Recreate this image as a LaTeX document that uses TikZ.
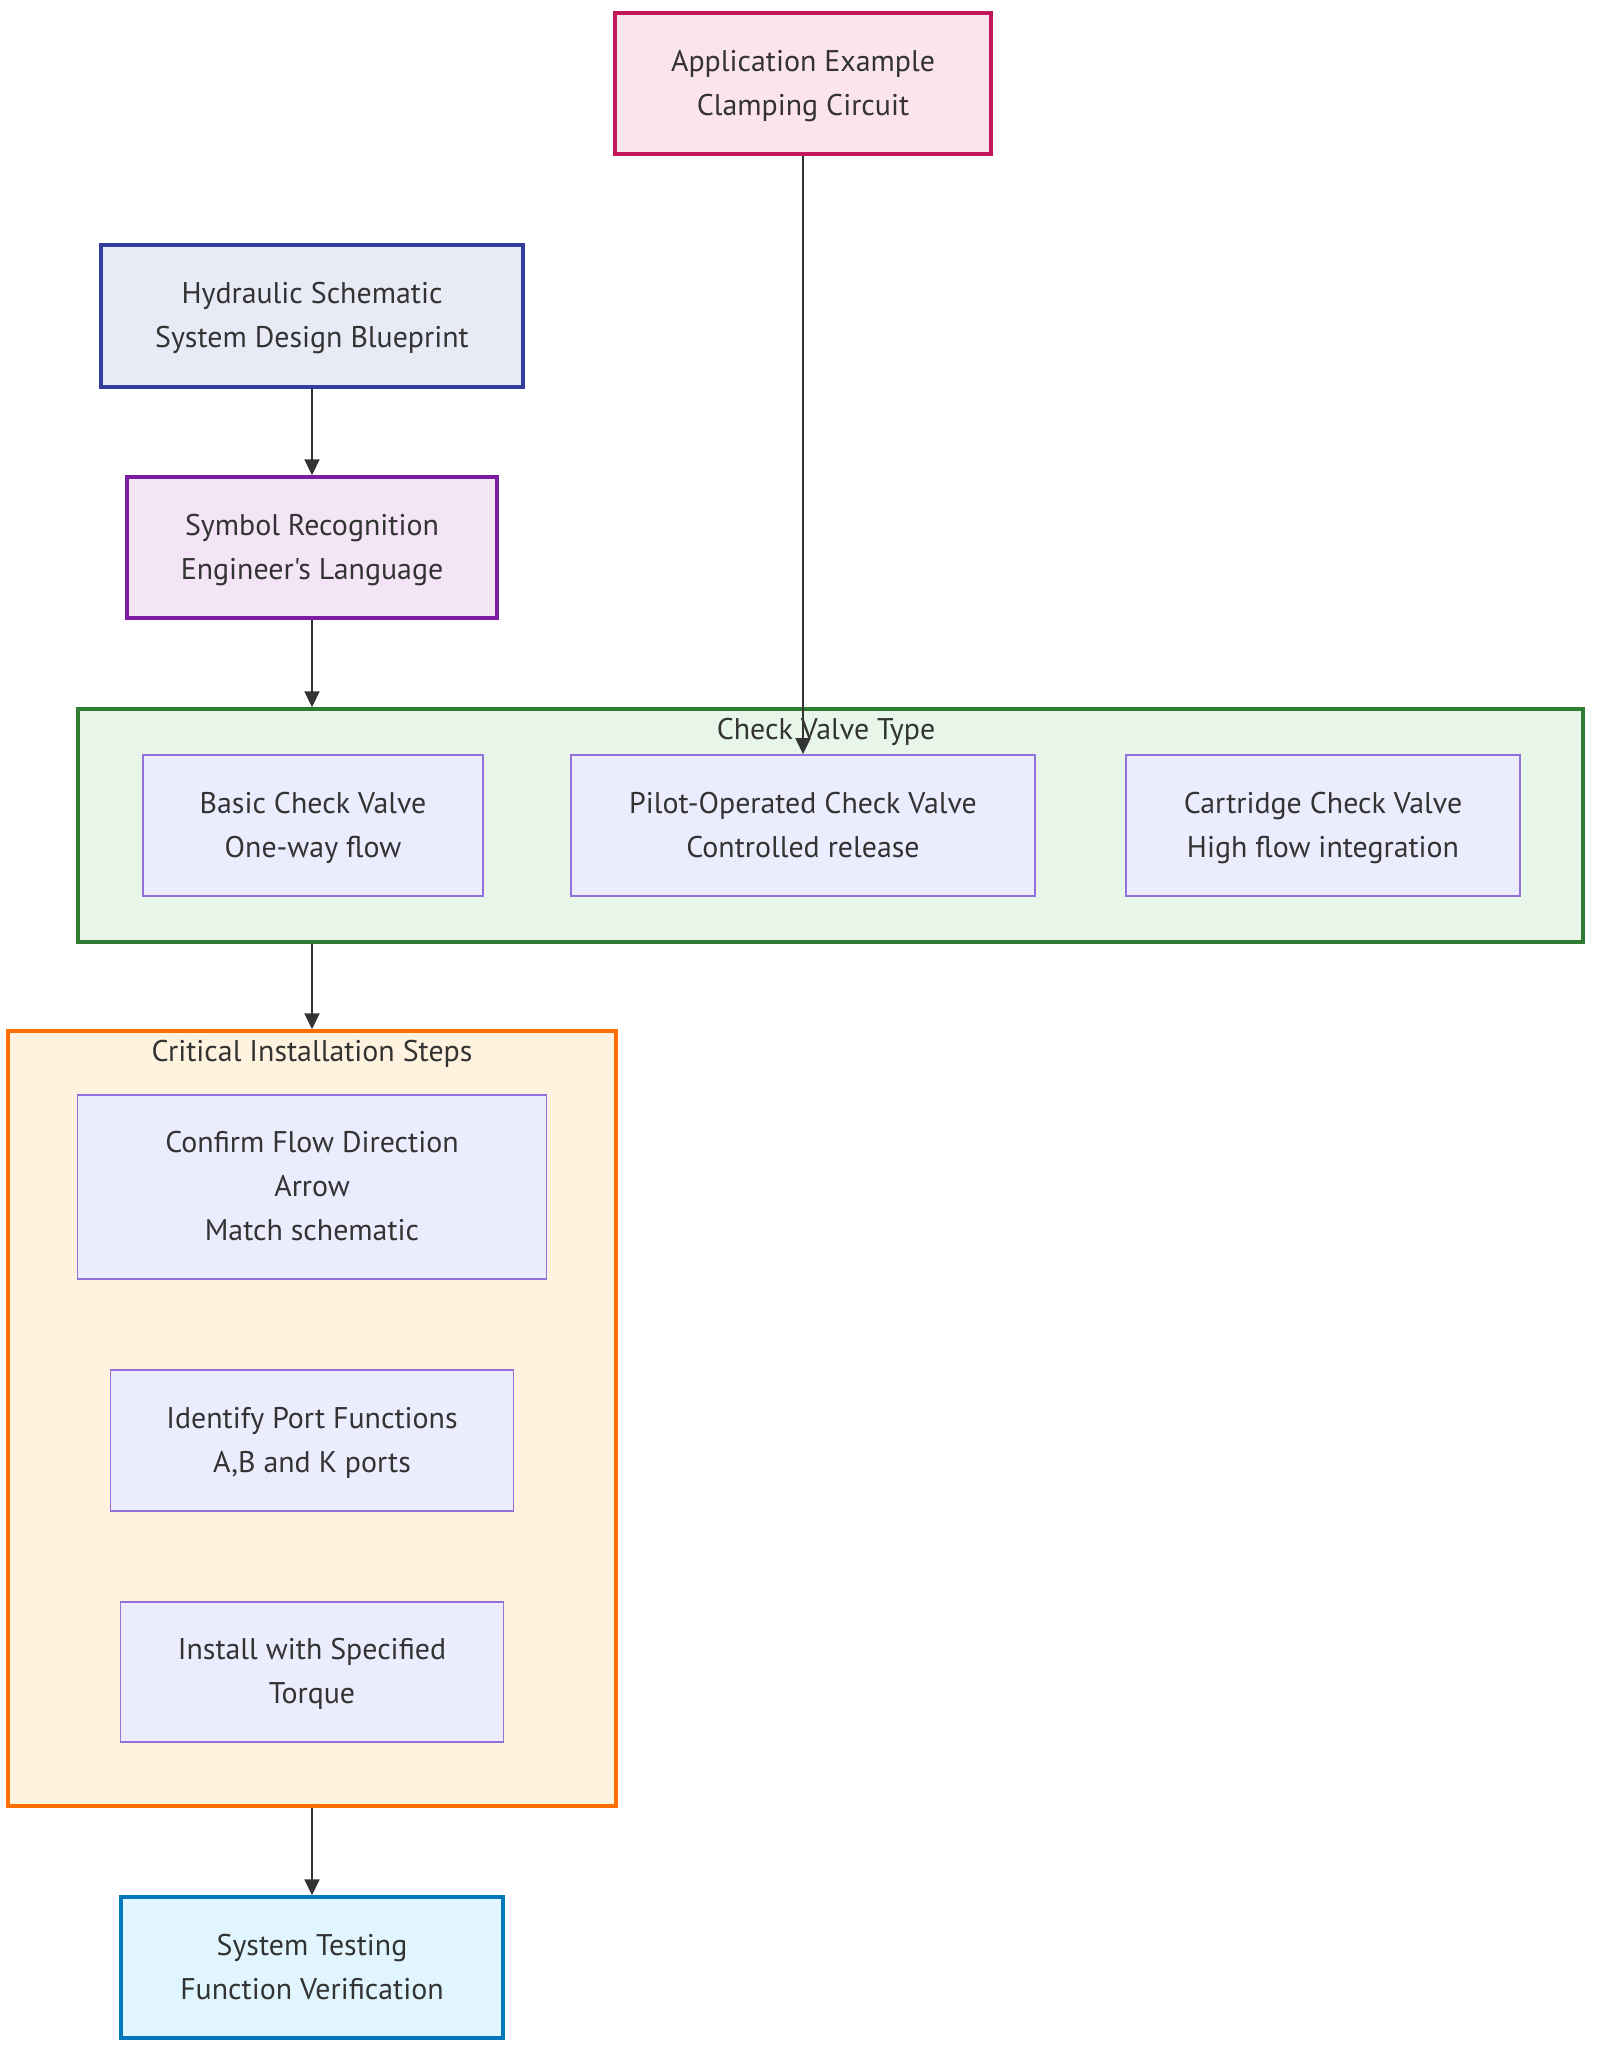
\documentclass[tikz,border=0pt]{standalone}
\usepackage{fontspec}
\setmainfont{PT Sans}[Ligatures=TeXOff]
\usetikzlibrary{arrows.meta}
\definecolor{txt}{HTML}{333333}
\definecolor{appfill}{HTML}{FCE4EC}\definecolor{appdraw}{HTML}{C2185B}
\definecolor{hydfill}{HTML}{E8EAF6}\definecolor{hyddraw}{HTML}{303F9F}
\definecolor{symfill}{HTML}{F3E5F5}\definecolor{symdraw}{HTML}{7B1FA2}
\definecolor{chkfill}{HTML}{E8F5E9}\definecolor{chkdraw}{HTML}{2E7D32}
\definecolor{crtfill}{HTML}{FFF3E0}\definecolor{crtdraw}{HTML}{FF6F00}
\definecolor{sysfill}{HTML}{E1F5FE}\definecolor{sysdraw}{HTML}{0277BD}
\definecolor{defill}{HTML}{ECECFF}\definecolor{dedraw}{HTML}{9370DB}
\tikzset{
  box/.style={rectangle, inner sep=0pt, text=txt, align=center,
    font=\fontsize{30}{44}\selectfont, text depth=2bp},
  keybox/.style={box, line width=3.5bp},
  plainbox/.style={box, fill=defill, draw=dedraw, line width=1.8bp},
  grp/.style={rectangle, inner sep=0pt, line width=3.5bp},
  grptitle/.style={text=txt, font=\fontsize{30}{34}\selectfont, inner sep=0pt},
  conn/.style={draw=txt, line width=2bp, -{Triangle[length=16bp,width=15bp]}},
}
\begin{document}
\begin{tikzpicture}[x=1bp,y=-1bp]
\useasboundingbox[fill=white] (0,0) rectangle (1597,2069);
% groups
\node[grp, fill=chkfill, draw=chkdraw, minimum width=1505bp, minimum height=233bp] (chk) at (830.5,825.5) {};
\node[grptitle] (chkt) at (826,732) {Check Valve Type};
\node[grp, fill=crtfill, draw=crtdraw, minimum width=608bp, minimum height=775bp] (crt) at (312,1418.5) {};
\node[grptitle] (crtt) at (312,1054) {Critical Installation Steps};
% key nodes
\node[keybox, fill=appfill, draw=appdraw, minimum width=376bp, minimum height=141bp] (app) at (803,83.5) {Application Example\\Clamping Circuit};
\node[keybox, fill=hydfill, draw=hyddraw, minimum width=422bp, minimum height=142bp] (hyd) at (312,316) {Hydraulic Schematic\\System Design Blueprint};
\node[keybox, fill=symfill, draw=symdraw, minimum width=370bp, minimum height=141bp] (sym) at (312,547.5) {Symbol Recognition\\Engineer's Language};
\node[keybox, fill=sysfill, draw=sysdraw, minimum width=382bp, minimum height=141bp] (sys) at (312,1967.5) {System Testing\\Function Verification};
% inner nodes
\node[plainbox, minimum width=340bp, minimum height=141bp] (basic) at (313,825.5) {Basic Check Valve\\One-way flow};
\node[plainbox, minimum width=464bp, minimum height=141bp] (pilot) at (803,825.5) {Pilot-Operated Check Valve\\Controlled release};
\node[plainbox, minimum width=394bp, minimum height=141bp] (cart) at (1323,825.5) {Cartridge Check Valve\\High flow integration};
\node[plainbox, minimum width=469bp, minimum height=184bp] (conf) at (312,1187) {Confirm Flow Direction\\Arrow\\Match schematic};
\node[plainbox, minimum width=403bp, minimum height=141bp] (ident) at (312,1440.5) {Identify Port Functions\\A,B and K ports};
\node[plainbox, minimum width=383bp, minimum height=140bp] (inst) at (312,1672) {Install with Specified\\Torque};
% connectors
\draw[conn] (hyd.south) -- (sym.north);
\draw[conn] (sym.south) -- (sym.south |- chk.north);
\draw[conn] (app.south) -- (pilot.north);
\draw[conn] (chk.south -| sym.south) -- (crt.north);
\draw[conn] (crt.south) -- (sys.north);
\end{tikzpicture}
\end{document}
